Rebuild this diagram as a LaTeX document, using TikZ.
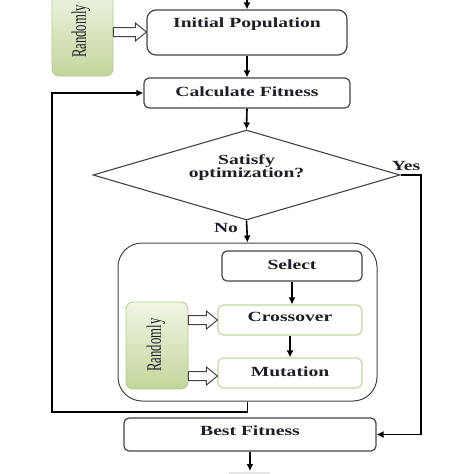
\documentclass[tikz,border=0pt]{standalone}
\usepackage{fontspec}
\usetikzlibrary{shapes.geometric,arrows.meta,calc}
\newfontfamily\mfont[FakeStretch=1.4]{Liberation Serif}
\newfontfamily\rfont[FakeStretch=0.62]{Liberation Serif}
\definecolor{txtc}{HTML}{1E1E28}
\definecolor{boxc}{HTML}{454545}
\definecolor{lgreen}{HTML}{C6D7A6}
\definecolor{gtop}{HTML}{F1F6E6}
\definecolor{gbot}{HTML}{C2D59C}
\definecolor{gedge}{HTML}{B4C890}
\tikzset{
  lbl/.style={font=\mfont\bfseries\fontsize{14}{13}\selectfont, text=txtc, align=center, inner sep=0pt},
  box/.style={draw=boxc, line width=1.2pt, rounded corners=6pt, fill=white, inner sep=0pt},
  gbox/.style={draw=lgreen, line width=1.2pt, rounded corners=6pt, fill=white, inner sep=0pt},
  randbox/.style={draw=gedge, line width=0.8pt, rounded corners=7pt, top color=gtop, bottom color=gbot, inner sep=0pt},
  randtxt/.style={font=\rfont\fontsize{20.5}{20}\selectfont, text=txtc, rotate=90, inner sep=0pt},
  arr/.style={line width=1.6pt, draw=black, -{Latex[length=7pt,width=7pt]}},
  hollow/.style={draw=boxc, line width=1pt, fill=white, line join=miter}
}
\newcommand{\hollowarrow}[2]{%
  \draw[hollow] let \p1=(#1), \p2=(#2) in
    (\x1,\y1+4.5) -- (\x2-11,\y1+4.5) -- (\x2-11,\y1+9) -- (\x2,\y1)
    -- (\x2-11,\y1-9) -- (\x2-11,\y1-4.5) -- (\x1,\y1-4.5) -- cycle;}
\begin{document}
\begin{tikzpicture}[x=1pt,y=-1pt]
\clip (0,0) rectangle (474,474);
\fill[white] (0,0) rectangle (474,474);

% top part
\node[box, rounded corners=9pt, minimum width=200pt, minimum height=45pt] (ip) at (247,32.5) {};
\node[lbl] (iptxt) at (247,24) {Initial Population};
\node[randbox, minimum width=61pt, minimum height=90pt] (r1) at (82.5,31) {};
\node[randtxt] (r1txt) at (81,31.5) {Randomly};

\node[box, rounded corners=5pt, minimum width=206pt, minimum height=30pt] (cf) at (247,93) {};
\node[lbl] (cftxt) at (247,92) {Calculate Fitness};

\node[draw=boxc, line width=1.1pt, diamond, minimum width=307pt, minimum height=90pt, inner sep=0pt] (dia) at (246.5,175) {};
\node[lbl] (diatxt) at (246.5,168) {Satisfy\\optimization?};

% loop container
\node[draw=boxc, line width=1pt, rounded corners=24pt, minimum width=259pt, minimum height=158pt, inner sep=0pt] (cont) at (247.5,322) {};
\node[box, rounded corners=5pt, minimum width=140pt, minimum height=30pt] (sel) at (292,266) {};
\node[lbl] (seltxt) at (292,265) {Select};
\node[gbox, minimum width=144pt, minimum height=30pt] (cro) at (290,320) {};
\node[lbl] (crotxt) at (290,317) {Crossover};
\node[gbox, minimum width=144pt, minimum height=30pt] (mut) at (290,373) {};
\node[lbl] (muttxt) at (290,372) {Mutation};
\node[randbox, minimum width=62pt, minimum height=87pt] (r2) at (157,345.5) {};
\node[randtxt] (r2txt) at (156,345) {Randomly};

\node[box, rounded corners=5pt, minimum width=252pt, minimum height=33pt] (bf) at (250,434.5) {};
\node[lbl] (bftxt) at (250,431) {Best Fitness};

\node[lbl] (yes) at (406,166) {Yes};
\node[lbl] (no) at (226,228) {No};

\coordinate (top) at (247,0);
\coordinate (yesc) at (421,175);
\coordinate (lp) at (52,412);
\coordinate (bot) at (250,471);

% connectors
\draw[arr] (top) -- (ip.north);
\draw[arr] (ip.south) -- (cf.north);
\draw[arr] (cf.south) -- (dia.north);
\draw[arr] (dia.south) -- (cont.north);
\draw[arr] (dia.east) -- (yesc) |- (bf.east);
\draw[arr] (cont.south) |- (lp) |- (cf.west);
\draw[arr] (sel.south) -- (sel.south |- cro.north);
\draw[arr] (cro.south) -- (cro.south |- mut.north);
\draw[arr] (bf.south) -- (bot);
\fill[gray!20] (229,472) rectangle (270,480);

\hollowarrow{r1.east |- 0,32}{ip.west |- 0,32}
\hollowarrow{r2.east |- 0,320}{cro.west |- 0,320}
\hollowarrow{r2.east |- 0,376}{mut.west |- 0,376}
\end{tikzpicture}
\end{document}
